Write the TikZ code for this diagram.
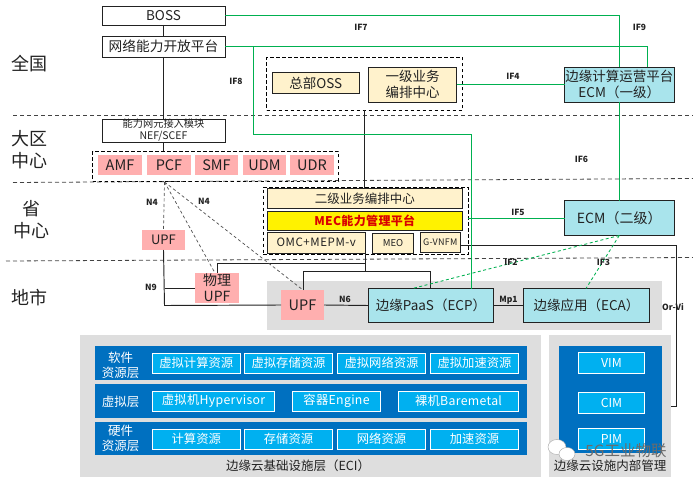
\documentclass[tikz,border=0pt]{standalone}
\usepackage{fontspec}
\setmainfont{Noto Sans CJK SC}
\usetikzlibrary{calc}
\definecolor{cream}{HTML}{FFF2CC}
\definecolor{pinkb}{HTML}{FFAFAF}
\definecolor{cyanb}{HTML}{A9E4EC}
\definecolor{greyb}{HTML}{DEDEDE}
\definecolor{greenl}{HTML}{00B050}
\definecolor{blueb}{HTML}{0070C0}
\definecolor{bluec}{HTML}{00B0F0}
\definecolor{ink}{HTML}{222222}
\newcommand{\fsz}[1]{\fontsize{#1}{#1}\selectfont}
\newcommand{\fszl}[2]{\fontsize{#1}{#2}\selectfont}
\newcommand{\lsp}[1]{\addfontfeature{LetterSpace=#1}}
% name, x1, y1, x2, y2, style, text
\newcommand{\bx}[7]{%
  \pgfmathsetmacro{\bw}{#4-#2}\pgfmathsetmacro{\bh}{#5-#3}%
  \pgfmathsetmacro{\cx}{(#2+#4)/2}\pgfmathsetmacro{\cy}{(#3+#5)/2}%
  \node[#6,minimum width=\bw pt,minimum height=\bh pt] (#1) at (\cx,\cy) {#7};}
\tikzset{
  nd/.style={draw=none,inner sep=0pt,outer sep=0pt,align=center,text=ink},
  plain/.style={nd,draw=ink,line width=0.9pt,fill=white},
  creamb/.style={nd,draw=ink,line width=0.9pt,fill=cream},
  cyn/.style={nd,draw=ink,line width=0.9pt,fill=cyanb},
  pnk/.style={nd,fill=pinkb},
  grey/.style={nd,fill=greyb},
  blu/.style={nd,fill=blueb},
  cell/.style={nd,fill=bluec,draw=white,line width=0.9pt,text=white,font=\fsz{12.3}},
  side/.style={nd,text=white,font=\fszl{12.5}{15}},
  dbox/.style={nd,draw=black,line width=0.8pt,dash pattern=on 3.5pt off 2.5pt},
  lvl/.style={nd,font=\fszl{18}{21},text=ink},
  lab/.style={nd,font=\bfseries\fsz{8.5},text=ink},
  gline/.style={draw=greenl,line width=1pt},
  kline/.style={draw=ink,line width=0.95pt},
  gdash/.style={draw=greenl,line width=0.85pt,dash pattern=on 3pt off 2.5pt},
  kdash/.style={draw=ink!80,line width=0.7pt,dash pattern=on 3pt off 2.5pt},
  sep/.style={draw=ink!85,line width=0.8pt,dash pattern=on 4pt off 3pt},
}
\begin{document}
\begin{tikzpicture}[x=1pt,y=-1pt]
\useasboundingbox (0,0) rectangle (693,484);
% grey backgrounds
\bx{gcity}{267}{281}{662}{330}{grey}{}
\bx{geci}{80}{335}{541}{477}{grey}{}
\bx{gmgmt}{549}{335}{671}{477}{grey}{}
% level separators
\coordinate (s1a) at (13,115.5); \coordinate (s1b) at (693,115.5);
\coordinate (s2a) at (13,182.5); \coordinate (s2b) at (693,178.5);
\coordinate (s3a) at (6,261); \coordinate (s3b) at (693,257.5);
\draw[sep] (s1a) -- (s1b);
\draw[sep] (s2a) -- (s2b);
\draw[sep] (s3a) -- (s3b);
% level labels
\node[lvl] (l1) at (30,64) {全国};
\node[lvl] (l2) at (30,150) {大区\\[1pt]中心};
\node[lvl] (l3) at (31,220) {省\\[1pt]中心};
\node[lvl] (l4) at (30,298) {地市};
% top boxes
\bx{boss}{102}{6}{225}{25}{plain,font=\fsz{13.5}}{BOSS}
\bx{net}{102}{36}{225}{57}{plain,font=\fsz{13.7}}{网络能力开放平台}
\bx{nef}{102}{119.5}{225}{142}{plain}{}
\node[nd,font=\fsz{10.2}] (neft) at (163.5,123.5) {能力网元接入模块};
\node[nd,font=\fsz{10.5}] (nefs) at (163.5,136) {NEF/SCEF};
% dashed groups
\bx{d1}{92.5}{151}{338.5}{181}{dbox}{}
\bx{d2}{266.5}{57.5}{462.5}{110.5}{dbox}{}
\bx{d3}{263}{187}{468}{254.5}{dbox}{}
% core functions
\bx{amf}{98}{155}{142}{175}{pnk,font=\fsz{14.5}}{AMF}
\bx{pcf}{147}{155}{191}{175}{pnk,font=\fsz{14.5}}{PCF}
\bx{smf}{195}{155}{238}{175}{pnk,font=\fsz{14.5}}{SMF}
\bx{udm}{243}{155}{286}{175}{pnk,font=\fsz{14.5}}{UDM}
\bx{udr}{290}{155}{334}{175}{pnk,font=\fsz{14.5}}{UDR}
% national
\bx{oss}{272.5}{72.5}{359}{93.5}{creamb,font=\fsz{13.5}}{总部OSS}
\bx{orch1}{368.5}{67}{456.5}{102}{creamb,font=\fszl{13.5}{16}}{一级业务\\编排中心}
\bx{ecm1}{564.5}{67}{674}{102}{cyn,font=\fszl{13.5}{16}}{边缘计算运营平台\\ECM（一级）}
% province
\bx{orch2}{267.5}{188.5}{462}{208.5}{creamb,font=\fsz{12.5}}{二级业务编排中心}
\bx{mec}{267.5}{211}{462}{230.5}{nd,draw=ink,line width=0.9pt,fill=yellow,text={red!85!black},font=\bfseries\fsz{12}\lsp{3}}{MEC能力管理平台}
\bx{omc}{267.5}{232.5}{365}{253}{creamb,font=\fsz{11.5}\lsp{5}}{OMC+MEPM-v}
\bx{meo}{372.5}{233.5}{413.5}{253}{creamb,font=\fsz{9.5}}{MEO}
\bx{vnfm}{420.5}{232.5}{460}{252}{creamb,font=\fsz{9}\lsp{3}}{G-VNFM}
\bx{ecm2}{564.5}{200.5}{674}{235.5}{cyn,font=\fsz{14}}{ECM（二级）}
\bx{upfp}{142}{230}{185}{250}{pnk,font=\fsz{13}}{UPF}
% city
\bx{upfw}{195}{273}{239}{303}{pnk,font=\fszl{14}{16}}{物理\\UPF}
\bx{upfc}{281}{290}{324}{320}{pnk,font=\fsz{14.5}}{UPF}
\bx{ecp}{368.5}{288.5}{493.5}{322.5}{cyn,font=\fsz{13.5}}{边缘PaaS（ECP）}
\bx{eca}{523.5}{288.5}{649.5}{322.5}{cyn,font=\fsz{13.5}}{边缘应用（ECA）}
% ECI rows
\bx{r1}{95}{346}{527}{380}{blu}{}
\bx{r2}{95}{384}{527}{418}{blu}{}
\bx{r3}{95}{422}{527}{455}{blu}{}
\node[side] (s1) at (120.5,365.5) {软件\\资源层};
\node[side] (s2) at (120.5,402) {虚拟层};
\node[side] (s3) at (120.5,438) {硬件\\资源层};
\bx{c11}{152.5}{353.5}{240}{373}{cell}{虚拟计算资源}
\bx{c12}{244.5}{353.5}{332.5}{373}{cell}{虚拟存储资源}
\bx{c13}{337.5}{353.5}{425.5}{373}{cell}{虚拟网络资源}
\bx{c14}{430.5}{353.5}{518.5}{373}{cell}{虚拟加速资源}
\bx{c21}{152.5}{391.5}{274.5}{411}{cell,font=\fsz{12.3}\lsp{2.5}}{虚拟机Hypervisor}
\bx{c22}{292.5}{391.5}{380.5}{411}{cell,font=\fsz{12.3}\lsp{2.5}}{容器Engine}
\bx{c23}{398.5}{391.5}{518.5}{411}{cell,font=\fsz{12.3}\lsp{2.5}}{裸机Baremetal}
\bx{c31}{152.5}{429.5}{240}{449}{cell}{计算资源}
\bx{c32}{244.5}{429.5}{332.5}{449}{cell}{存储资源}
\bx{c33}{337.5}{429.5}{425.5}{449}{cell}{网络资源}
\bx{c34}{430.5}{429.5}{518.5}{449}{cell}{加速资源}
\node[nd,font=\fsz{12.5}] (ecit) at (298,466) {边缘云基础设施层（ECI）};
% management column
\bx{mg}{559}{346}{662}{453}{blu}{}
\bx{vim}{578.5}{352.5}{644.5}{373.5}{cell}{VIM}
\bx{cim}{578.5}{392.5}{644.5}{413}{cell}{CIM}
\bx{pim}{578.5}{428.5}{644.5}{449.5}{cell}{PIM}
\node[nd,font=\fsz{12.5}] (mgt) at (610,466) {边缘云设施内部管理};
% connectors: black
\draw[kline] (boss) -- (net);
\draw[kline] (net) -- (nef);
\draw[kline] (nef) -- (nef |- d1.north);
\draw[kline] (d2.south -| orch2.north) -- (orch2.north);
\coordinate (nb) at (164.5,182);
\draw[kline] (upfp.south) -- (164.5,305.5) coordinate (nj) -- (upfc.west);
\coordinate (nk) at (164.5,288.5);
\draw[kline] (nk) -- (nk -| upfw.west);
\coordinate (tr) at (365,263.5);
\coordinate (tc) at (365,271.5);
\draw[kline] (omc.south east) -- (tc);
\draw[kline] (upfw.north) |- (tr);
\draw[kline] ([xshift=0.5pt]upfc.north) |- (tc);
\coordinate (te) at (430.5,271.5);
\draw[kline] (tc) -- (te) -- (te |- ecp.north);
\draw[kline] (upfc.east) -- (ecp.west);
\draw[kline] (ecp.east) -- (eca.west);
\coordinate (vs) at (vnfm.east |- 0,245.5);
\coordinate (ov) at (676.5,245.5);
\coordinate (ovb) at (676.5,406.5);
\draw[kline] (vs) -- (ov) -- (ovb) -- (gmgmt.east |- ovb);
% connectors: green
\draw[gline] (boss.east) -| (ecm1.north);
\coordinate (if9) at (647.5,67);
\draw[gline] (net.east) -| (if9);
\coordinate (b8) at (253.5,46.5);
\coordinate (b8r) at (471.5,134.5);
\draw[gline] (b8) |- (b8r) -- (b8r |- ecp.north);
\draw[gline] (orch1.east) -- (ecm1.west);
\draw[gline] (ecm1.south) -- (ecm2.north);
\coordinate (m5) at (468,218);
\draw[gline] (m5) -- (m5 -| ecm2.west);
% dashed connectors
\draw[kdash] (nb) -- (upfp.north);
\draw[kdash] (nb) -- ([xshift=-2pt]upfw.north);
\draw[kdash] (nb) -- ([xshift=0.5pt]upfc.north);
\coordinate (ecpd) at (412.5,288.5);
\coordinate (ecad) at (586,288.5);
\draw[gdash] (ecm2.south) -- (ecpd);
\draw[gdash] (ecm2.south) -- (ecad);
% labels
\node[lab] (if7) at (361,27.5) {IF7};
\node[lab] (if9l) at (639.5,27.5) {IF9};
\node[lab] (if8) at (236,81) {IF8};
\node[lab] (if4) at (513,76.5) {IF4};
\node[lab] (if6) at (581.5,159.5) {IF6};
\node[lab] (if5) at (518,212.5) {IF5};
\node[lab] (if2) at (511,262.5) {IF2};
\node[lab] (if3) at (603.5,262.5) {IF3};
\node[lab] (n4a) at (152,202.5) {N4};
\node[lab] (n4b) at (204,201.5) {N4};
\node[lab] (n9) at (151,287.5) {N9};
\node[lab] (n6) at (345,299.5) {N6};
\node[lab] (mp1) at (508.5,300) {Mp1};
\node[lab] (orvi) at (673,307.5) {Or-Vi};
% watermark
\fill[white,draw=gray!70,line width=0.4pt] (557,447) ellipse (9pt and 7.5pt);
\fill[white,draw=gray!70,line width=0.4pt] (567,454) ellipse (8pt and 6.5pt);
\node[nd,font=\fsz{15.5},text=black!58] (wm) at (626,451) {5G工业物联};
\end{tikzpicture}
\end{document}
